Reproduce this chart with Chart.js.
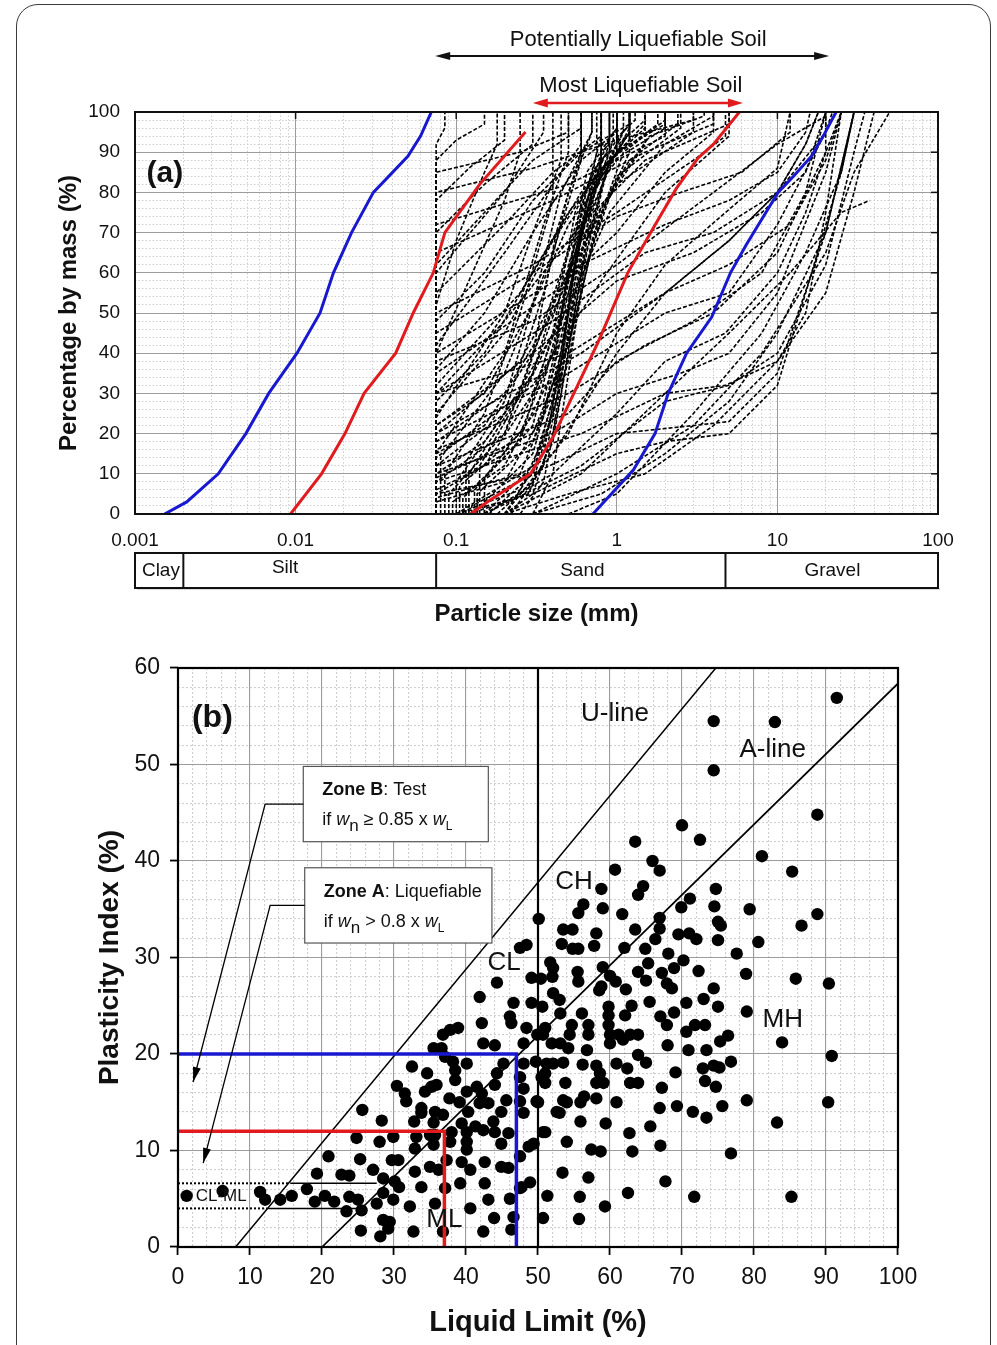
<!DOCTYPE html>
<html><head><meta charset="utf-8">
<script src="https://cdn.jsdelivr.net/npm/chart.js@4.4.1/dist/chart.umd.min.js"></script>
<style>
html,body{margin:0;padding:0;background:#fff;width:997px;height:1345px;overflow:hidden;position:relative;}
#frame{position:absolute;left:16px;top:4px;width:975px;height:1400px;border:1.5px solid #3a3a3a;border-radius:22px;box-sizing:border-box;}
#ca{position:absolute;left:0;top:0;width:997px;height:640px;}
#cb{position:absolute;left:0;top:640px;width:997px;height:705px;}
</style></head><body>
<div id="frame"></div>
<canvas id="ca" width="997" height="640"></canvas>
<canvas id="cb" width="997" height="705"></canvas>
<script>
const FONT = "'Liberation Sans', Arial, Helvetica, sans-serif";
Chart.defaults.font.family = FONT;
Chart.defaults.color = '#111';

// ================= (a) Grain size distribution data =================
const decadeLabels = [0.001, 0.01, 0.1, 1, 10, 100];
const percentLabels = [0, 10, 20, 30, 40, 50, 60, 70, 80, 90, 100];
const soilBounds = [0.001, 0.002, 0.075, 4.75, 100];
const soilNames = ['Clay', 'Silt', 'Sand', 'Gravel'];
const soilLabelAt = [0.00145, 0.0086, 0.61, 22];

const blueFine = [[0.00153,0],[0.0021,3],[0.0033,10],[0.0049,20],[0.0068,30],[0.0102,40],[0.0142,50],[0.0172,60],[0.0223,70],[0.0305,80],[0.050,89],[0.060,94],[0.070,100]];
const blueCoarse = [[0.71,0],[1.27,11],[1.73,20],[2.09,30],[2.72,40],[3.9,49],[5.1,60],[6.4,67],[10.1,80],[12.6,84],[16.3,89],[19.3,94],[23.2,100]];
const redFine = [[0.0093,0],[0.0145,10],[0.0203,20],[0.0267,30],[0.042,40],[0.054,50],[0.072,60],[0.085,70],[0.14,82],[0.27,95]];
const redCoarse = [[0.123,0],[0.156,3],[0.29,10],[0.40,19],[0.54,30],[0.77,43],[1.17,60],[1.68,71],[2.35,81],[3.2,88.5],[4.0,92],[5.8,100]];

const siltyCurves = [
 [[0.075,0],[0.075,88],[0.1,93],[0.15,97],[0.15,100]],
 [[0.075,0],[0.075,78],[0.12,86],[0.2,93],[0.2,100]],
 [[0.075,0],[0.075,70],[0.15,82],[0.3,92],[0.3,100]],
 [[0.075,0],[0.075,62],[0.15,75],[0.3,88],[0.6,96],[0.6,100]],
 [[0.075,0],[0.075,55],[0.2,72],[0.4,85],[0.8,94],[0.8,100]],
 [[0.075,0],[0.075,48],[0.15,60],[0.3,78],[0.6,90],[1.2,97],[1.2,100]],
 [[0.075,0],[0.075,42],[0.2,65],[0.4,82],[0.6,92],[0.6,100]],
 [[0.075,0],[0.075,36],[0.15,50],[0.3,70],[0.6,88],[1.0,95],[1.0,100]],
 [[0.075,0],[0.075,32],[0.25,55],[0.5,75],[1.0,90],[2.0,97],[2.0,100]],
 [[0.075,0],[0.075,28],[0.15,40],[0.3,60],[0.6,80],[1.2,93],[1.2,100]],
 [[0.075,0],[0.075,25],[0.2,45],[0.4,68],[0.8,86],[2.0,96],[2.0,100]],
 [[0.075,0],[0.075,22],[0.15,30],[0.3,52],[0.5,72],[1.0,88],[1.0,100]],
 [[0.075,0],[0.075,20],[0.25,38],[0.5,60],[1.0,82],[3.0,95],[3.0,100]],
 [[0.075,0],[0.075,18],[0.2,30],[0.4,50],[0.8,76],[1.5,92],[1.5,100]],
 [[0.075,0],[0.075,15],[0.15,22],[0.3,40],[0.6,68],[1.2,88],[2.4,97],[2.4,100]],
 [[0.075,0],[0.075,12],[0.2,25],[0.45,48],[0.9,75],[2.0,92],[4.0,99],[4.0,100]],
 [[0.075,0],[0.075,80],[0.3,86],[1.0,93],[3.0,98],[3.0,100]],
 [[0.075,0],[0.075,65],[0.4,78],[1.5,90],[4.0,97],[4.0,100]],
 [[0.075,0],[0.075,50],[0.3,62],[1.0,75],[3.0,88],[4.75,94],[4.75,100]],
 [[0.075,0],[0.075,60],[0.2,80],[0.35,95],[0.35,100]],
 [[0.075,0],[0.075,92],[0.085,96],[0.085,100]],
 [[0.075,0],[0.075,85],[0.25,90],[0.5,95],[0.5,100]],
 [[0.075,0],[0.075,72],[0.5,82],[1.0,88],[2.0,94],[2.0,100]],
 [[0.075,0],[0.075,35],[0.4,55],[1.0,70],[2.0,85],[4.0,95],[4.0,100]],
 [[0.075,0],[0.075,24],[0.2,50],[0.3,70],[0.45,88],[0.45,100]],
 [[0.075,0],[0.075,40],[0.12,58],[0.2,78],[0.25,90],[0.25,100]],
 [[0.075,0],[0.075,52],[0.1,68],[0.15,85],[0.18,92],[0.18,100]],
 [[0.075,0],[0.075,30],[0.2,48],[0.6,72],[1.5,88],[5,97],[5,100]],
 [[0.075,0],[0.075,14],[0.3,32],[0.8,58],[2.0,80],[5,94],[5,100]]
];
const sandCurves = [
 [[0.075,0],[0.075,10],[0.15,18],[0.3,35],[0.5,60],[0.8,85],[0.8,100]],
 [[0.075,0],[0.075,8],[0.2,20],[0.4,45],[0.6,70],[1.0,90],[1.0,100]],
 [[0.075,0],[0.075,6],[0.15,12],[0.3,30],[0.5,55],[0.7,80],[1.2,95],[1.2,100]],
 [[0.075,0],[0.075,5],[0.2,15],[0.4,40],[0.55,65],[0.8,88],[0.8,100]],
 [[0.09,0],[0.09,5],[0.2,20],[0.3,40],[0.42,70],[0.6,90],[0.6,100]],
 [[0.1,0],[0.1,8],[0.2,25],[0.35,55],[0.5,80],[0.7,95],[0.7,100]],
 [[0.11,0],[0.11,4],[0.25,18],[0.4,45],[0.55,75],[0.9,93],[0.9,100]],
 [[0.12,0],[0.12,10],[0.25,30],[0.45,60],[0.7,85],[1.2,97],[1.2,100]],
 [[0.13,0],[0.13,6],[0.3,22],[0.45,50],[0.6,75],[1.0,92],[1.0,100]],
 [[0.14,0],[0.14,12],[0.3,35],[0.5,65],[0.8,88],[1.5,98],[1.5,100]],
 [[0.15,0],[0.15,3],[0.3,15],[0.45,40],[0.6,70],[0.9,90],[0.9,100]],
 [[0.15,0],[0.15,9],[0.35,28],[0.5,55],[0.7,80],[1.2,95],[1.2,100]],
 [[0.08,0],[0.08,14],[0.2,35],[0.4,65],[0.6,88],[0.6,100]],
 [[0.085,0],[0.085,10],[0.15,25],[0.25,50],[0.4,78],[0.4,100]],
 [[0.095,0],[0.095,3],[0.2,12],[0.4,35],[0.5,60],[0.65,85],[1.0,96],[1.0,100]],
 [[0.105,0],[0.105,7],[0.25,20],[0.42,42],[0.5,62],[0.8,86],[1.5,96],[1.5,100]],
 [[0.115,0],[0.115,13],[0.2,28],[0.3,52],[0.45,80],[0.7,95],[0.7,100]],
 [[0.125,0],[0.125,2],[0.3,10],[0.5,38],[0.7,68],[1.1,90],[2.0,98],[2.0,100]],
 [[0.135,0],[0.135,5],[0.3,18],[0.55,48],[0.75,72],[1.2,90],[1.2,100]],
 [[0.2,0],[0.3,5],[0.4,20],[0.5,45],[0.7,75],[1.0,92],[1.0,100]],
 [[0.25,0],[0.35,8],[0.45,30],[0.6,60],[0.85,85],[1.2,96],[1.2,100]],
 [[0.2,0],[0.35,15],[0.45,38],[0.55,62],[0.8,88],[0.8,100]],
 [[0.3,0],[0.4,10],[0.5,35],[0.65,65],[0.9,88],[1.5,97],[1.5,100]],
 [[0.18,0],[0.3,8],[0.42,28],[0.5,50],[0.6,75],[0.8,94],[0.8,100]],
 [[0.22,0],[0.35,12],[0.48,40],[0.6,70],[0.75,90],[0.75,100]],
 [[0.075,0],[0.075,4],[0.25,10],[0.4,30],[0.55,58],[0.75,82],[1.1,95],[1.1,100]],
 [[0.16,0],[0.3,10],[0.42,32],[0.55,55],[0.7,78],[0.95,93],[0.95,100]],
 [[0.075,0],[0.075,15],[0.2,40],[0.35,72],[0.5,90],[0.5,100]],
 [[0.075,0],[0.075,3],[0.2,8],[0.35,25],[0.5,52],[0.65,78],[0.9,92],[0.9,100]],
 [[0.1,0],[0.25,6],[0.38,22],[0.48,48],[0.6,72],[0.8,90],[1.3,98],[1.3,100]],
 [[0.12,0],[0.28,5],[0.4,18],[0.52,44],[0.65,68],[0.9,88],[1.8,97],[1.8,100]],
 [[0.075,0],[0.075,9],[0.3,20],[0.5,42],[0.7,66],[1.0,84],[2.5,96],[2.5,100]],
 [[0.15,0],[0.3,12],[0.45,35],[0.6,58],[0.9,80],[1.6,94],[3.5,99],[3.5,100]]
];
const gravellyCurves = [
 [[0.075,0],[0.075,5],[0.3,10],[1.0,20],[3.0,22],[5.0,23],[10,35],[20,70],[30,100]],
 [[0.1,0],[0.3,5],[1.0,15],[2.0,18],[5.0,20],[10,32],[15,55],[25,85],[30,100]],
 [[0.075,0],[0.075,10],[0.4,20],[1.0,30],[2.5,35],[5,40],[10,55],[20,85],[25,100]],
 [[0.075,0],[0.075,12],[0.5,25],[1.0,38],[3.0,48],[8,60],[15,80],[20,100]],
 [[0.15,0],[0.4,10],[1.0,25],[2.0,38],[4.75,45],[10,60],[15,75],[20,90],[25,100]],
 [[0.075,0],[0.075,18],[0.5,35],[2.0,50],[5,55],[10,72],[20,95],[22,100]],
 [[0.075,0],[0.075,22],[0.3,40],[1.0,58],[3,65],[8,75],[15,85],[20,100]],
 [[0.075,0],[0.075,30],[0.4,48],[1.5,65],[4,70],[10,80],[15,92],[18,100]],
 [[0.075,0],[0.075,40],[0.6,62],[2.0,72],[5,78],[10,85],[15,95],[16,100]],
 [[0.075,0],[0.075,45],[0.3,60],[1.0,74],[2.5,80],[6,85],[12,95],[12,100]],
 [[0.2,0],[0.5,5],[1.5,10],[4.0,22],[10,38],[20,55],[30,80],[40,100]],
 [[0.3,0],[0.8,5],[2.0,15],[5,28],[10,45],[20,70],[30,100]],
 [[0.5,0],[1.0,5],[3.0,25],[8,45],[15,65],[25,85],[30,100]],
 [[0.15,0],[0.6,12],[2.0,28],[5.0,32],[10,40],[20,62],[30,90],[35,100]],
 [[0.075,0],[0.075,8],[0.6,20],[2.0,30],[4.75,32],[10,38],[15,50],[20,75],[25,100]],
 [[0.075,0],[0.075,16],[0.5,30],[1.5,42],[4,50],[10,65],[20,90],[20,100]],
 [[0.075,0],[0.075,20],[0.6,40],[2.0,55],[5,62],[12,72],[20,88],[25,100]],
 [[0.1,0],[0.4,15],[1.0,40],[2.0,55],[5.0,68],[10,80],[15,92],[18,100]],
 [[0.2,0],[0.5,20],[1.0,45],[2.0,62],[4.75,75],[10,86],[12,100]],
 [[0.3,0],[1.0,10],[3,22],[8,40],[20,65],[30,85],[50,100]],
 [[0.2,0],[0.6,10],[2,30],[5,45],[12,60],[25,75],[37.5,78]],
 [[0.075,0],[0.075,38],[0.3,48],[1.0,62],[4.0,80],[10,92],[20,99],[20,100]],
 [[0.075,0],[0.075,30],[0.5,40],[2.0,55],[5,68],[10,80],[20,95],[20,100]]
];

// ================= (b) Plasticity chart data =================
const llLabels = [0, 10, 20, 30, 40, 50, 60, 70, 80, 90, 100];
const piLabels = [0, 10, 20, 30, 40, 50, 60];
const uLine = [[8,0],[74.7,60]];
const aLine = [[20,0],[100,58.4]];
const llFifty = [[50,0],[50,60]];
const zoneBLimit = [[0,20],[47,20],[47,0]];
const zoneALimit = [[0,12],[37,12],[37,0]];
const clmlDotted = [[[0,6.6],[15.6,6.6]], [[0,4],[12.4,4]]];
const clmlSolid = [[[15.6,6.6],[27.6,6.6]], [[12.4,4],[24.9,4]]];

const soilsHighPI = [[91.5,56.9],[74.4,54.5],[82.9,54.4],[74.4,49.4],[88.8,44.8],[70.0,43.7],[72.5,42.2],[63.5,42.0],[81.1,40.5],[65.9,40.0],[66.9,39.0],[60.7,39.1],[85.3,38.9],[58.8,37.1],[64.6,37.4],[63.9,36.5],[74.7,37.1],[56.3,35.5],[55.6,34.6],[59.0,35.1],[61.7,34.5],[71.1,36.1],[69.9,35.2],[74.5,35.3],[79.4,35.0],[88.8,34.5],[86.6,33.3],[50.1,34.0],[66.9,34.1],[66.9,33.0],[75.0,33.7],[75.4,33.3],[53.5,32.9],[54.8,32.9],[58.1,32.5],[63.5,32.9],[69.5,32.4],[71.0,32.5],[72.0,31.9],[75.0,31.8],[80.6,31.6],[53.3,31.4],[54.8,30.9],[55.6,30.9],[57.8,31.2],[62.0,31.0],[64.9,30.9],[66.3,31.9],[68.1,30.4],[70.2,29.7],[77.6,30.4],[48.4,31.3],[47.5,31.0],[51.7,29.5],[52.1,28.9],[59.0,29.0],[65.3,29.4],[68.9,28.9],[72.3,28.6],[78.9,28.3],[85.8,27.8],[90.4,27.3],[49.1,27.9],[50.4,27.8],[52.0,28.0],[55.5,28.5],[55.6,27.5],[60.0,28.1],[60.8,27.5],[62.2,26.7],[63.9,28.5],[65.0,27.6],[67.2,28.4],[67.9,27.3],[68.6,26.8],[74.4,26.8],[58.5,26.6],[58.8,27.0]];
const soilsMidPI = [[49.1,25.3],[50.6,24.9],[52.1,26.3],[53.0,25.6],[53.1,24.2],[56.1,24.2],[59.8,24.9],[59.8,24.0],[62.1,24.0],[63.0,25.0],[65.5,25.4],[67.0,23.9],[68.9,24.3],[70.6,25.3],[73.0,25.7],[75.0,24.9],[79.0,24.4],[83.9,21.2],[90.8,19.8],[48.4,22.7],[51.0,22.7],[49.9,22.0],[48.0,21.1],[51.9,21.1],[53.1,21.1],[54.2,20.6],[54.7,23.0],[57.0,23.0],[57.0,22.0],[56.8,20.4],[54.4,22.0],[59.8,23.0],[60.0,22.0],[61.2,22.0],[60.0,21.1],[61.8,21.5],[62.8,22.0],[63.9,22.0],[67.9,23.0],[68.0,20.9],[70.6,22.3],[70.9,20.4],[71.8,23.0],[73.2,23.0],[73.4,20.4],[75.3,21.3],[76.4,21.9]];
const soilsLowPI = [[49.7,19.2],[51.2,19.0],[52.1,19.0],[53.5,19.1],[56.2,18.9],[58.1,18.8],[58.6,18.0],[60.9,19.0],[62.4,18.5],[63.9,19.9],[65.0,19.1],[69.1,18.1],[72.9,18.5],[74.4,18.8],[75.2,18.6],[76.8,19.2],[47.5,17.6],[50.5,17.6],[51.0,17.0],[53.8,17.0],[58.1,17.0],[59.1,17.0],[62.8,17.0],[63.9,17.0],[67.2,16.5],[73.2,17.2],[74.7,16.6],[47.5,15.1],[50.0,15.0],[53.5,15.2],[54.0,15.0],[55.9,15.0],[56.4,15.6],[58.1,15.4],[60.9,15.0],[66.9,14.4],[69.3,14.6],[71.5,14.0],[73.4,13.4],[75.6,14.6],[79.0,15.2],[90.3,15.0],[48.0,13.9],[53.0,13.9],[83.2,12.9],[55.9,13.0],[59.4,12.8],[65.6,12.5],[62.7,11.8],[51.0,11.9],[54.0,10.9],[48.7,10.4],[49.4,10.7],[57.4,10.1],[58.7,9.9],[63.1,9.9],[67.0,10.5],[76.8,9.7],[53.4,7.7],[57.0,7.2],[67.7,6.8],[48.9,6.7],[47.5,6.1],[51.3,5.3],[55.8,5.2],[62.5,5.6],[71.7,5.2],[85.2,5.2],[59.3,4.2],[50.7,3.0],[55.7,2.9]];
const soilsLowLL = [[44.3,27.4],[41.9,25.9],[46.6,25.3],[46.1,23.9],[46.3,23.2],[42.2,23.2],[50.7,22.0],[42.4,21.1],[44.0,20.9],[35.5,20.6],[36.6,20.6],[37.1,19.7],[32.5,18.7],[38.2,19.2],[40.1,19.0],[45.2,19.0],[48.0,19.0],[36.8,22.0],[37.8,22.5],[38.9,22.7],
 [34.6,18.0],[30.4,16.7],[31.5,15.9],[31.7,15.1],[34.3,16.1],[35.2,16.6],[35.9,16.8],[33.8,14.4],[33.8,13.9],[32.8,13.0],[28.3,13.1],[35.7,14.0],[35.5,12.9],[36.8,13.7],[37.7,15.4],[38.5,17.3],[38.5,18.3],[39.1,15.0],[40.1,16.1],[40.3,14.0],[39.4,12.8],[38.0,11.9],[40.1,11.9],[40.1,10.9],[40.1,10.1],[41.3,12.5],[42.4,12.1],[41.9,14.9],[41.5,16.6],[42.2,15.9],[43.1,14.9],[43.8,13.0],[44.0,11.9],[44.9,14.0],[44.9,10.7],[45.9,11.8],[44.3,18.0],[44.0,16.8],[45.6,15.2],[48.0,16.4],[49.8,15.1],[50.7,11.9],[51.0,18.0],[52.6,14.0],
 [47.7,6.2],[47.5,9.4],[46.1,5.0],[46.6,3.1],[45.9,8.2],[44.9,8.3],[43.9,3.0],[43.1,4.9],[42.6,8.8],[42.6,6.6],[42.4,1.6],[40.6,4.0],[40.6,8.0],[39.4,8.8],[39.2,6.6],[37.3,9.0],[37.1,6.1],[35.7,4.5],[36.8,1.6],[35.0,8.3],[36.2,8.0],[35.5,10.6],[35.7,11.6],[35.0,11.6],[32.9,10.2],[33.1,11.4],[33.8,6.2],[32.2,4.2],[32.7,1.6],[30.6,9.0],[29.7,9.0],[28.5,7.1],[27.1,8.0],[30.1,6.8],[30.7,6.2],[29.9,4.9],[28.5,5.6],[27.6,4.5],[28.5,2.8],[29.4,2.6],[28.1,1.1],[29.2,1.9],[37.8,10.9],
 [1.2,5.3],[6.2,5.8],[11.4,5.7],[12.1,4.9],[14.2,4.9],[15.8,5.3],[17.9,6.0],[19.0,4.7],[19.3,7.6],[20.4,5.3],[20.9,9.4],[21.7,4.7],[22.7,7.5],[23.8,7.4],[23.8,5.2],[23.4,3.7],[24.8,11.3],[25.3,9.1],[25.0,4.9],[25.5,3.8],[25.4,1.7],[25.6,14.2],[28.0,10.9],[29.9,11.4],[32.9,7.8],[46.3,1.8]];

// ================= helpers =================
const MAJOR = '#9c9c9c', MINOR = '#cfcfcf';
const BLUE = '#1818d0', RED = '#e11b1d';
const isDecade = v => v > 0 && Math.abs(Math.log10(v) - Math.round(Math.log10(v))) < 1e-6;
const logGrid = [];
for (let e = -3; e < 2; e++) for (let m = 1; m < 10; m++) logGrid.push(+(m * Math.pow(10, e)).toPrecision(3));
logGrid.push(100);
const evenGrid = (max) => { const a = []; for (let v = 0; v <= max; v += 2) a.push(v); return a; };

function arrowHead(ctx, x1, y1, x2, y2, len, half) {
  const a = Math.atan2(y2 - y1, x2 - x1);
  ctx.beginPath();
  ctx.moveTo(x2, y2);
  ctx.lineTo(x2 - len * Math.cos(a) + half * Math.sin(a), y2 - len * Math.sin(a) - half * Math.cos(a));
  ctx.lineTo(x2 - len * Math.cos(a) - half * Math.sin(a), y2 - len * Math.sin(a) + half * Math.cos(a));
  ctx.closePath();
  ctx.fill();
}
function richText(ctx, parts, x, y) {
  let cx = x;
  parts.forEach(p => { ctx.font = p.f; ctx.fillText(p.t, cx, y + (p.dy || 0)); cx += ctx.measureText(p.t).width; });
}

// ================= (a) chart =================
const gsdDecor = {
  id: 'gsdDecor',
  afterDraw(chart) {
    const {ctx, chartArea: ca, scales: {x, y}} = chart;
    ctx.save();
    ctx.strokeStyle = '#111'; ctx.lineWidth = 2;
    ctx.strokeRect(ca.left, ca.top, ca.right - ca.left, ca.bottom - ca.top);
    ctx.lineWidth = 1.5;
    percentLabels.forEach(v => {
      const py = y.getPixelForValue(v);
      ctx.beginPath(); ctx.moveTo(ca.right, py); ctx.lineTo(ca.right - 7, py); ctx.stroke();
    });
    decadeLabels.forEach(v => {
      const px = x.getPixelForValue(v);
      ctx.beginPath(); ctx.moveTo(px, ca.top); ctx.lineTo(px, ca.top + 7); ctx.stroke();
    });
    const bt = ca.bottom + 39, bb = ca.bottom + 74;
    const x0 = x.getPixelForValue(soilBounds[0]), x1 = x.getPixelForValue(soilBounds[soilBounds.length - 1]);
    ctx.fillStyle = '#d9d9d9';
    ctx.fillRect(x0 + 2, bb, x1 - x0, 2);
    ctx.lineWidth = 2; ctx.strokeStyle = '#111';
    ctx.strokeRect(x0, bt, x1 - x0, bb - bt);
    soilBounds.slice(1, -1).forEach(b => {
      const px = x.getPixelForValue(b);
      ctx.beginPath(); ctx.moveTo(px, bt); ctx.lineTo(px, bb); ctx.stroke();
    });
    ctx.fillStyle = '#111'; ctx.font = '19px ' + FONT; ctx.textAlign = 'center'; ctx.textBaseline = 'middle';
    soilNames.forEach((n, i) => ctx.fillText(n, x.getPixelForValue(soilLabelAt[i]), (bt + bb) / 2 + (i === 1 ? -3 : 0)));
    const ax1 = x.getPixelForValue(0.074), ax2 = x.getPixelForValue(21), ay = ca.top - 56;
    ctx.strokeStyle = '#111'; ctx.lineWidth = 2;
    ctx.beginPath(); ctx.moveTo(ax1 + 8, ay); ctx.lineTo(ax2 - 8, ay); ctx.stroke();
    ctx.fillStyle = '#111';
    arrowHead(ctx, ax2 - 20, ay, ax2, ay, 15, 4);
    arrowHead(ctx, ax1 + 20, ay, ax1, ay, 15, 4);
    ctx.font = '22px ' + FONT;
    ctx.fillText('Potentially Liquefiable Soil', (ax1 + ax2) / 2 + 6, ca.top - 72);
    const rx1 = x.getPixelForValue(0.3), rx2 = x.getPixelForValue(6.1), ry = ca.top - 9;
    ctx.strokeStyle = RED; ctx.fillStyle = RED; ctx.lineWidth = 2.5;
    ctx.beginPath(); ctx.moveTo(rx1 + 8, ry); ctx.lineTo(rx2 - 8, ry); ctx.stroke();
    arrowHead(ctx, rx2 - 20, ry, rx2, ry, 15, 4.5);
    arrowHead(ctx, rx1 + 20, ry, rx1, ry, 15, 4.5);
    ctx.fillStyle = '#111';
    ctx.fillText('Most Liquefiable Soil', (rx1 + rx2) / 2 + 3, ca.top - 26);
    ctx.font = 'bold 30px ' + FONT; ctx.textAlign = 'left';
    ctx.fillText('(a)', x.getPixelForValue(0.00118), y.getPixelForValue(84.7));
    ctx.restore();
  }
};

const dashedSets = [...siltyCurves, ...sandCurves, ...gravellyCurves].map(c => ({
  data: c, borderColor: '#000', borderWidth: 1.6, borderDash: [4, 2], pointRadius: 0, tension: 0, fill: false, order: 2
}));

new Chart(document.getElementById('ca'), {
  type: 'line',
  data: {datasets: [
    {data: blueFine, borderColor: BLUE, borderWidth: 3, pointRadius: 0, tension: 0, order: 0},
    {data: blueCoarse, borderColor: BLUE, borderWidth: 3, pointRadius: 0, tension: 0, order: 0},
    {data: redFine, borderColor: RED, borderWidth: 3, pointRadius: 0, tension: 0, order: 0},
    {data: redCoarse, borderColor: RED, borderWidth: 3, pointRadius: 0, tension: 0, order: 0},
    ...dashedSets
  ]},
  options: {
    responsive: false, animation: false, events: [],
    layout: {padding: {left: 55, right: 59, top: 112, bottom: 11}},
    plugins: {legend: {display: false}, tooltip: {enabled: false}},
    scales: {
      x: {
        type: 'logarithmic', min: 0.001, max: 100,
        afterBuildTicks: s => { s.ticks = logGrid.map(v => ({value: v})); },
        afterFit: s => { s.height = 115; },
        ticks: {autoSkip: false, maxRotation: 0, padding: 15, font: {size: 19}, color: '#111',
                callback: v => isDecade(v) ? String(v) : ''},
        grid: {drawTicks: false, color: c => (c.tick && isDecade(c.tick.value)) ? MAJOR : MINOR, lineWidth: 1},
        border: {display: false, dash: c => (c.tick && isDecade(c.tick.value)) ? [] : [1.5, 2]},
        title: {display: true, text: 'Particle size (mm)', font: {size: 24, weight: 'bold'}, padding: 0, color: '#111'}
      },
      y: {
        min: 0, max: 100,
        afterBuildTicks: s => { s.ticks = evenGrid(100).map(v => ({value: v})); },
        afterFit: s => { s.width = 80; },
        ticks: {autoSkip: false, padding: 15, font: {size: 19}, color: '#111',
                callback: v => percentLabels.includes(v) ? String(v) : ''},
        grid: {drawTicks: false, color: c => (c.tick && c.tick.value % 10 === 0) ? MAJOR : MINOR, lineWidth: 1},
        border: {display: false, dash: c => (c.tick && c.tick.value % 10 === 0) ? [] : [1.5, 2]},
        title: {display: true, text: 'Percentage by mass (%)', font: {size: 24, weight: 'bold'}, padding: 0, color: '#111'}
      }
    }
  },
  plugins: [gsdDecor]
});

// ================= (b) chart =================
const zoneTexts = {
  B1: [{t: 'Zone B', f: 'bold 18px ' + FONT}, {t: ': Test', f: '18px ' + FONT}],
  B2: [{t: 'if ', f: '18px ' + FONT}, {t: 'w', f: 'italic 18px ' + FONT}, {t: 'n', f: '17px ' + FONT, dy: 6}, {t: ' \u2265 0.85 x ', f: '18px ' + FONT}, {t: 'w', f: 'italic 18px ' + FONT}, {t: 'L', f: '12px ' + FONT, dy: 5}],
  A1: [{t: 'Zone A', f: 'bold 18px ' + FONT}, {t: ': Liquefiable', f: '18px ' + FONT}],
  A2: [{t: 'if ', f: '18px ' + FONT}, {t: 'w', f: 'italic 18px ' + FONT}, {t: 'n', f: '17px ' + FONT, dy: 6}, {t: ' > 0.8 x ', f: '18px ' + FONT}, {t: 'w', f: 'italic 18px ' + FONT}, {t: 'L', f: '12px ' + FONT, dy: 5}]
};
const zoneBoxes = [
  {x1: 17.4, x2: 43.1, y1: 49.8, y2: 42.0, lines: ['B1', 'B2'], leader: [[17.4, 45.9], [12.1, 45.9], [2.1, 17.1]]},
  {x1: 17.6, x2: 43.6, y1: 39.3, y2: 31.5, lines: ['A1', 'A2'], leader: [[17.6, 35.4], [12.8, 35.4], [3.5, 8.7]]}
];
const chartLabels = [
  {t: 'U-line', x: 60.7, y: 55.3, s: 26}, {t: 'A-line', x: 82.6, y: 51.5, s: 26},
  {t: 'CH', x: 55.0, y: 37.8, s: 26}, {t: 'CL', x: 45.3, y: 29.4, s: 26},
  {t: 'MH', x: 84.0, y: 23.5, s: 26}, {t: 'ML', x: 37.0, y: 2.8, s: 26},
  {t: 'CL-ML', x: 6.0, y: 5.3, s: 17}
];

const plastDecor = {
  id: 'plastDecor',
  afterDatasetsDraw(chart) {
    const {ctx, chartArea: ca, scales: {x, y}} = chart;
    ctx.save();
    ctx.strokeStyle = '#000'; ctx.lineWidth = 2.2;
    ctx.strokeRect(ca.left, ca.top, ca.right - ca.left, ca.bottom - ca.top);
    zoneBoxes.forEach(b => {
      const L = x.getPixelForValue(b.x1), R = x.getPixelForValue(b.x2);
      const T = y.getPixelForValue(b.y1), B = y.getPixelForValue(b.y2);
      ctx.fillStyle = '#fff'; ctx.fillRect(L, T, R - L, B - T);
      ctx.strokeStyle = '#555'; ctx.lineWidth = 1.2; ctx.strokeRect(L, T, R - L, B - T);
      ctx.fillStyle = '#111'; ctx.textAlign = 'left'; ctx.textBaseline = 'alphabetic';
      richText(ctx, zoneTexts[b.lines[0]], L + 19, T + 29);
      richText(ctx, zoneTexts[b.lines[1]], L + 19, T + 59);
      const pts = b.leader.map(p => [x.getPixelForValue(p[0]), y.getPixelForValue(p[1])]);
      ctx.strokeStyle = '#000'; ctx.lineWidth = 1.3;
      ctx.beginPath(); ctx.moveTo(pts[0][0], pts[0][1]);
      pts.slice(1).forEach(p => ctx.lineTo(p[0], p[1]));
      ctx.stroke();
      ctx.fillStyle = '#000';
      arrowHead(ctx, pts[1][0], pts[1][1], pts[2][0], pts[2][1], 15, 4);
    });
    ctx.fillStyle = '#111'; ctx.textAlign = 'center'; ctx.textBaseline = 'middle';
    chartLabels.forEach(l => {
      ctx.font = l.s + 'px ' + FONT;
      ctx.fillText(l.t, x.getPixelForValue(l.x), y.getPixelForValue(l.y));
    });
    ctx.font = 'bold 32px ' + FONT; ctx.textAlign = 'left';
    ctx.fillText('(b)', x.getPixelForValue(1.94), y.getPixelForValue(54.8));
    ctx.restore();
  }
};

const lineSet = (d, color, w, dash, order) => ({data: d, showLine: true, borderColor: color, borderWidth: w, borderDash: dash || [], pointRadius: 0, tension: 0, fill: false, order});
const dotSet = d => ({data: d, pointRadius: 6.2, pointBackgroundColor: '#000', pointBorderWidth: 0, backgroundColor: '#000', borderColor: '#000', order: 1});

new Chart(document.getElementById('cb'), {
  type: 'scatter',
  data: {datasets: [
    lineSet(zoneBLimit, BLUE, 3.5, null, 0),
    lineSet(zoneALimit, RED, 3.5, null, 0),
    dotSet(soilsHighPI), dotSet(soilsMidPI), dotSet(soilsLowPI), dotSet(soilsLowLL),
    lineSet(uLine, '#000', 1.5, null, 2),
    lineSet(aLine, '#000', 1.7, null, 2),
    lineSet(llFifty, '#000', 2.2, null, 2),
    ...clmlDotted.map(d => lineSet(d, '#000', 2, [2, 2], 2)),
    ...clmlSolid.map(d => lineSet(d, '#000', 1.5, null, 2))
  ]},
  options: {
    responsive: false, animation: false, events: [],
    layout: {padding: {left: 93, right: 99, top: 28, bottom: 5}},
    plugins: {legend: {display: false}, tooltip: {enabled: false}},
    scales: {
      x: {
        type: 'linear', min: 0, max: 100,
        afterBuildTicks: s => { s.ticks = evenGrid(100).map(v => ({value: v})); },
        afterFit: s => { s.height = 93; },
        ticks: {autoSkip: false, maxRotation: 0, padding: 9, font: {size: 23}, color: '#111',
                callback: v => llLabels.includes(v) ? String(v) : ''},
        grid: {drawTicks: true, tickLength: 8, color: c => (c.tick && c.tick.value % 10 === 0) ? MAJOR : MINOR,
               tickColor: c => (c.tick && c.tick.value % 10 === 0) ? '#000' : 'rgba(0,0,0,0)', tickWidth: 1.8, lineWidth: 1.1},
        border: {display: false, dash: c => (c.tick && c.tick.value % 10 === 0) ? [] : [2, 2]},
        title: {display: true, text: 'Liquid Limit (%)', font: {size: 29, weight: 'bold'}, padding: 0, color: '#111'}
      },
      y: {
        min: 0, max: 60,
        afterBuildTicks: s => { s.ticks = evenGrid(60).map(v => ({value: v})); },
        afterFit: s => { s.width = 85; },
        ticks: {autoSkip: false, padding: 10, font: {size: 23}, color: '#111',
                callback: v => piLabels.includes(v) ? String(v) : ''},
        grid: {drawTicks: true, tickLength: 8, color: c => (c.tick && c.tick.value % 10 === 0) ? MAJOR : MINOR,
               tickColor: c => (c.tick && c.tick.value % 10 === 0) ? '#000' : 'rgba(0,0,0,0)', tickWidth: 1.8, lineWidth: 1.1},
        border: {display: false, dash: c => (c.tick && c.tick.value % 10 === 0) ? [] : [2, 2]},
        title: {display: true, text: 'Plasticity Index (%)', font: {size: 28, weight: 'bold'}, padding: 0, color: '#111'}
      }
    }
  },
  plugins: [plastDecor]
});
</script>
</body></html>
